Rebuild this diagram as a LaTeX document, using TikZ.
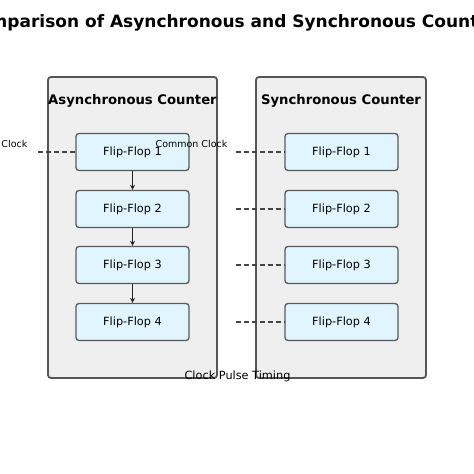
\documentclass[tikz,border=0pt]{standalone}
\usepackage{fontspec}
\setmainfont{DejaVu Sans}
\usetikzlibrary{arrows.meta}
\definecolor{panelfill}{HTML}{EFEFEF}
\definecolor{panelline}{HTML}{555555}
\definecolor{fffill}{HTML}{E1F5FE}
\definecolor{ffline}{HTML}{5A5A5A}
\definecolor{dashcol}{HTML}{444444}
\tikzset{
  panel/.style={draw=panelline, fill=panelfill, line width=1.8pt, rounded corners=3pt},
  ffbox/.style={draw=ffline, fill=fffill, line width=1.3pt, rounded corners=3pt,
    minimum width=113pt, minimum height=37pt, inner sep=0pt, font=\fontsize{11.3}{13}\selectfont},
  heading/.style={font=\fontsize{13.2}{15}\selectfont\bfseries, inner sep=0pt},
  small/.style={font=\fontsize{9.5}{11}\selectfont, inner sep=0pt},
  clk/.style={draw=dashcol, line width=1.4pt, dash pattern=on 5pt off 3pt},
  ripple/.style={draw=black!85, line width=1.3pt, -{Stealth[length=5pt,width=5pt]}},
}
\begin{document}
\begin{tikzpicture}[x=1pt,y=-1pt]
\useasboundingbox (0,0) rectangle (474,474);
% panels
\node[panel, minimum width=169pt, minimum height=301pt, inner sep=0pt] (ap) at (132.5,227.5) {};
\node[panel, minimum width=170pt, minimum height=301pt, inner sep=0pt] (sp) at (341,227.5) {};
% title
\node[font=\fontsize{17}{20}\selectfont\bfseries, inner sep=0pt] (title) at (237,23) {Comparison of Asynchronous and Synchronous Counters};
% headings
\node[heading] (ah) at (132.5,100.5) {Asynchronous Counter};
\node[heading] (sh) at (341,100.5) {Synchronous Counter};
% clock endpoints
\coordinate (ac1) at (38,152);
\coordinate (sc1) at (236,152);
\coordinate (sc2) at (236,209);
\coordinate (sc3) at (236,265);
\coordinate (sc4) at (236,322);
% flip-flops
\node[ffbox] (a1) at (132.5,152) {Flip-Flop 1};
\node[ffbox] (a2) at (132.5,209) {Flip-Flop 2};
\node[ffbox] (a3) at (132.5,265) {Flip-Flop 3};
\node[ffbox] (a4) at (132.5,322) {Flip-Flop 4};
\node[ffbox] (s1) at (341.5,152) {Flip-Flop 1};
\node[ffbox] (s2) at (341.5,209) {Flip-Flop 2};
\node[ffbox] (s3) at (341.5,265) {Flip-Flop 3};
\node[ffbox] (s4) at (341.5,322) {Flip-Flop 4};
% clock lines
\draw[clk] (ac1) -- (a1.west);
\draw[clk] (sc1) -- (s1.west);
\draw[clk] (sc2) -- (s2.west);
\draw[clk] (sc3) -- (s3.west);
\draw[clk] (sc4) -- (s4.west);
% ripple arrows
\draw[ripple] (a1.south) -- (a2.north);
\draw[ripple] (a2.south) -- (a3.north);
\draw[ripple] (a3.south) -- (a4.north);
% labels
\node[small] (lcl) at (-8.5,144) {Common Clock};
\node[small] (rcl) at (191.5,144) {Common Clock};
\node[font=\fontsize{11.3}{13}\selectfont, inner sep=0pt] (cpt) at (237.5,376.5) {Clock Pulse Timing};
\end{tikzpicture}
\end{document}
